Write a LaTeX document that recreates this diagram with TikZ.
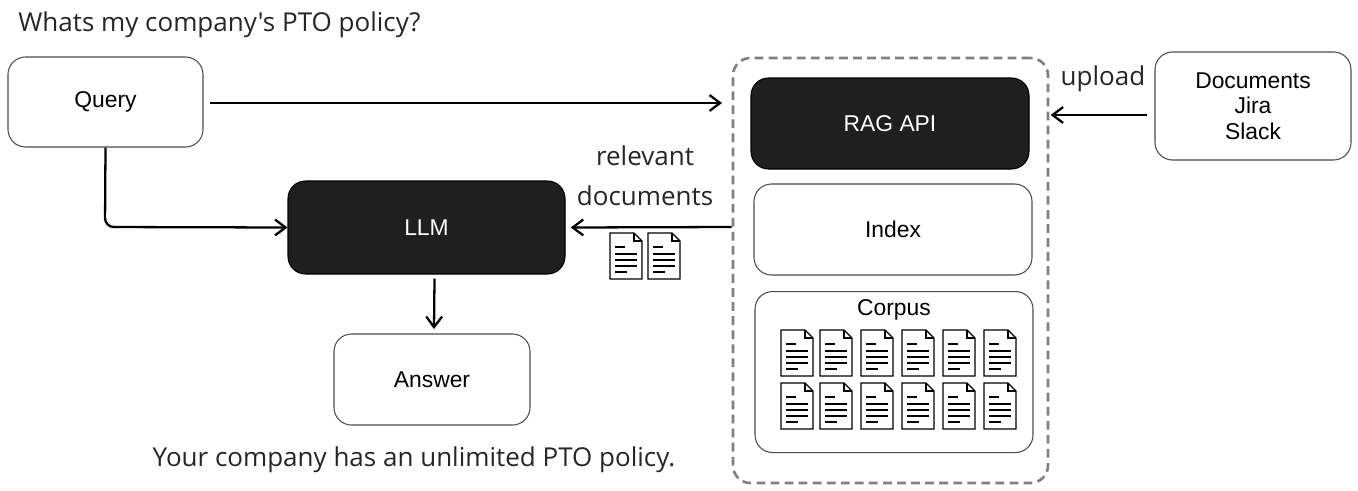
\documentclass[tikz,border=0pt]{standalone}
\usepackage{fontspec}
\setmainfont{Liberation Sans}
\newfontfamily\bigf{Open Sans}
\usetikzlibrary{arrows.meta}
\begin{document}
\begin{tikzpicture}[x=0.02cm,y=-0.02cm,
  box/.style={draw=black!70,line width=0.6pt,rounded corners=0.35cm,fill=white,font=\fontsize{13}{15}\selectfont,align=center},
  dark/.style={box,fill=black!88,draw=black,text=white},
  arr/.style={-{Straight Barb[length=6pt,width=9pt]},line width=1.3pt,rounded corners=5pt},
  big/.style={font=\bigf\fontsize{14.8}{19}\selectfont,text=black!85},
  doc/.pic={\draw[line width=0.7pt,fill=white] (-16,-23) -- (8,-23) -- (16,-15) -- (16,23) -- (-16,23) -- cycle;
    \draw[line width=0.7pt] (8,-23) -- (8,-15) -- (16,-15);
    \foreach \y/\l in {-9/10,-2/22,4/22,10/22,16/12} \draw[line width=0.8pt] (-11,\y) -- (-11+\l,\y);}]
\useasboundingbox (0,0) rectangle (1358,490);
\node[draw=black!50,dash pattern=on 5pt off 3pt,line width=1.5pt,rounded corners=0.35cm,minimum width=315*0.02cm,minimum height=425*0.02cm] (cont) at (890.5,270.5) {};
\node[box,minimum width=195*0.02cm,minimum height=90*0.02cm] (q) at (105.5,102) {Query};
\node[dark,minimum width=277*0.02cm,minimum height=93*0.02cm] (llm) at (426.5,227.5) {LLM};
\node[box,minimum width=196*0.02cm,minimum height=91*0.02cm] (ans) at (432,379.5) {Answer};
\node[dark,minimum width=278*0.02cm,minimum height=91*0.02cm] (rag) at (890,123.5) {RAG API};
\node[box,minimum width=278*0.02cm,minimum height=91*0.02cm] (idx) at (893,229.5) {Index};
\node[box,minimum width=278*0.02cm,minimum height=161*0.02cm,anchor=north] (corp) at (894,291) {};
\node[font=\fontsize{13}{15}\selectfont,anchor=north] (corpl) at (894,293) {Corpus};
\node[box,minimum width=196*0.02cm,minimum height=108*0.02cm,font=\fontsize{13}{14.5}\selectfont] (src) at (1253,106) {Documents\\Jira\\Slack};
\node[big,anchor=west,inner sep=0pt] (qt) at (18,25) {Whats my company's PTO policy?};
\node[big] (at) at (414,460) {Your company has an unlimited PTO policy.};
\node[big] (up) at (1103,79) {upload};
\node[big,align=center] (rel) at (645,176) {relevant\\[4pt]documents};
\coordinate (qa) at (722,103);
\draw[arr] (q.east|-0,103) ++(6,0) -- (qa);
\draw[arr] (q.south) -- (105,227) -- (llm.west);
\draw[arr] (llm.south) ++(8,4) -- (434,329);
\draw[arr] (cont.west|-0,227) -- ([xshift=3pt]llm.east);
\draw[arr] ([xshift=-4pt]src.west|-0,115) -- ([xshift=12pt]rag.east|-0,115);
\pic at (626,256) {doc}; \pic at (664,256) {doc};
\foreach \x in {797,836,877,918,959,1000}{\pic at (\x,353) {doc}; \pic at (\x,406) {doc};}
\end{tikzpicture}
\end{document}
